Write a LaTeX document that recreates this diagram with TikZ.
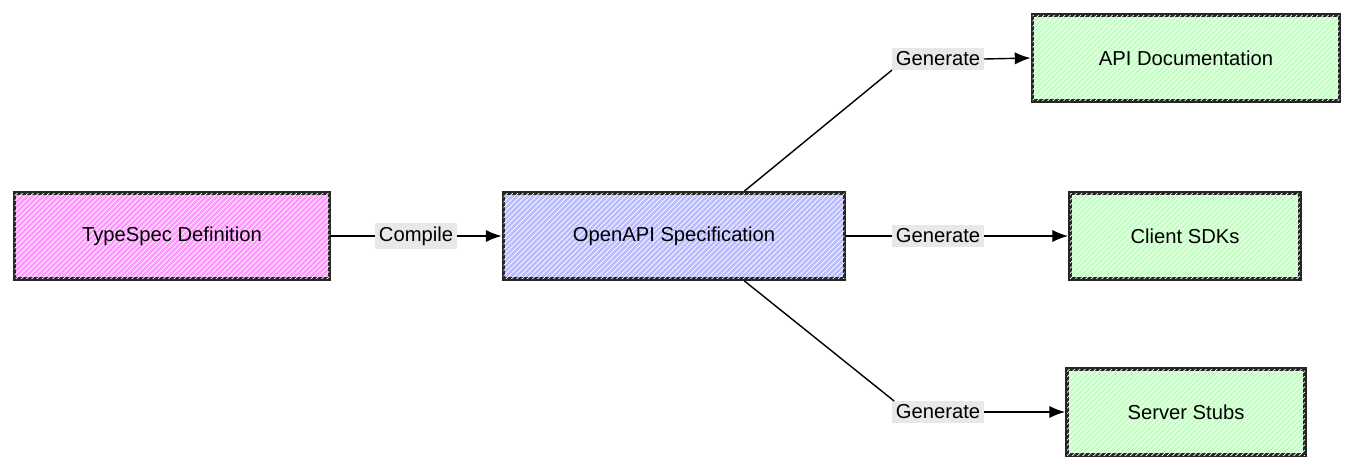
\documentclass[tikz,border=0pt]{standalone}
\usepackage{fontspec}
\setmainfont{Liberation Sans}
\usetikzlibrary{arrows.meta,patterns}
\definecolor{specpink}{HTML}{FF99FF}
\definecolor{specblue}{HTML}{BBBBFF}
\definecolor{outgreen}{HTML}{C4FFC4}
\definecolor{labelgray}{HTML}{E8E8E8}
\tikzset{
  box/.style={draw=black!85, line width=2.2pt, minimum height=1.72cm,
              font=\fontsize{11.5}{14}\selectfont, inner sep=0pt},
  hatch/.style={postaction={pattern=north east lines, pattern color=white}},
  lbl/.style={fill=labelgray, font=\fontsize{11.5}{14}\selectfont, inner sep=2pt},
  flow/.style={line width=0.8pt, -{Latex[length=9pt,width=7pt]}}
}
\begin{document}
\begin{tikzpicture}[x=0.02cm,y=-0.02cm]
  \useasboundingbox (0,0) rectangle (1358,474);
  % boxes
  \node[box, fill=specpink, hatch, minimum width=6.3cm] (typespec) at (172,236) {TypeSpec Definition};
  \node[box, fill=specblue, hatch, minimum width=6.82cm] (openapi) at (674,236) {OpenAPI Specification};
  \node[box, fill=outgreen, hatch, minimum width=6.14cm] (docs) at (1186,58) {API Documentation};
  \node[box, fill=outgreen, hatch, minimum width=4.6cm] (sdks) at (1185,236) {Client SDKs};
  \node[box, fill=outgreen, hatch, minimum width=4.76cm] (stubs) at (1186,412) {Server Stubs};
  % labels
  \node[lbl] (compile) at (416,236) {Compile};
  \node[lbl] (gen1) at (938,59) {Generate};
  \node[lbl] (gen2) at (938,236) {Generate};
  \node[lbl] (gen3) at (938,412) {Generate};
  % connectors
  \draw[line width=0.8pt] (typespec.east) -- (compile.west);
  \draw[flow] (compile.east) -- (openapi.west);
  \draw[line width=0.8pt] (openapi.north east) ++(-102,0) -- (gen1.south west) ++(25,0);
  \draw[flow] (gen1.east) -- (docs.west);
  \draw[line width=0.8pt] (openapi.east) -- (gen2.west);
  \draw[flow] (gen2.east) -- (sdks.west);
  \draw[line width=0.8pt] (openapi.south east) ++(-102,0) -- ([xshift=-25pt]gen3.north);
  \draw[flow] (gen3.east) -- (stubs.west);
\end{tikzpicture}
\end{document}
